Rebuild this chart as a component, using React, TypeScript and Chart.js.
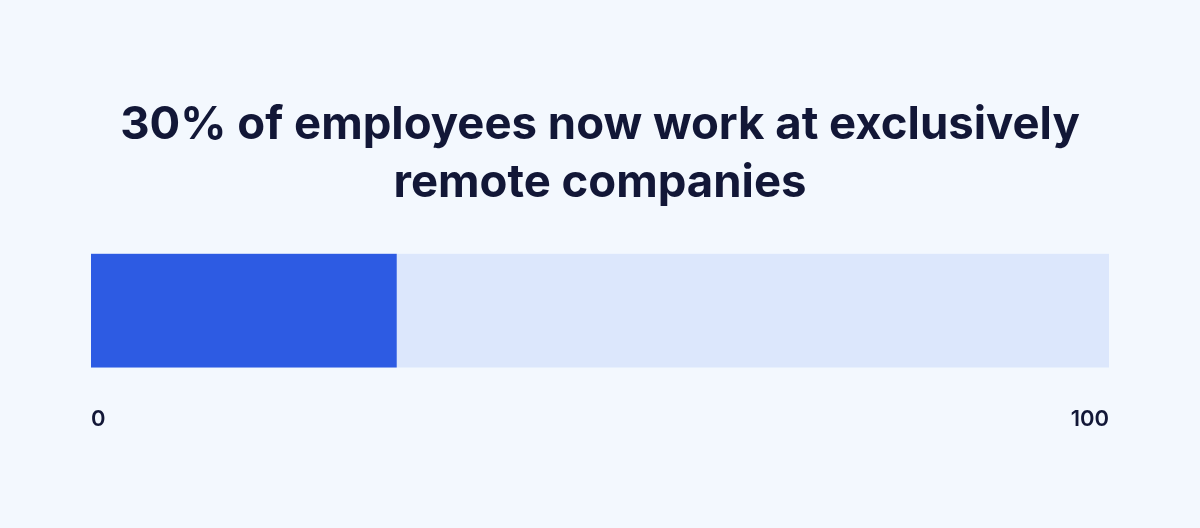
import React, { useEffect, useRef } from "react";
import { Chart, registerables } from "chart.js";

Chart.register(...registerables);

const titleLines = ["30% of employees now work at exclusively", "remote companies"];
const categories = [""];
const shareValues = [30];
const totalValues = [100];
const axisMin = 0;
const axisMax = 100;

export default function App() {
  const ref = useRef<HTMLCanvasElement | null>(null);

  useEffect(() => {
    document.body.style.margin = "0";
    document.body.style.background = "#F3F8FE";
    const ctx = ref.current!.getContext("2d")!;
    const chart = new Chart(ctx, {
      type: "bar",
      data: {
        labels: categories,
        datasets: [
          {
            label: "Remote",
            data: shareValues,
            backgroundColor: "#2D5BE3",
            borderWidth: 0,
            grouped: false,
            categoryPercentage: 1,
            barPercentage: 1,
          },
          {
            label: "Total",
            data: totalValues,
            backgroundColor: "#DCE7FC",
            borderWidth: 0,
            grouped: false,
            categoryPercentage: 1,
            barPercentage: 1,
          },
        ],
      },
      options: {
        indexAxis: "y",
        responsive: false,
        animation: false,
        maintainAspectRatio: false,
        layout: { padding: { left: 91, right: 91, top: 0, bottom: 56 } },
        plugins: {
          legend: { display: false },
          tooltip: { enabled: false },
          title: {
            display: true,
            text: titleLines,
            color: "#121737",
            font: { family: "Inter", size: 45.5, weight: "bold", lineHeight: 1.26 },
            padding: { top: 97, bottom: 42 },
          },
        },
        scales: {
          y: { display: false },
          x: {
            min: axisMin,
            max: axisMax,
            grid: { display: false, drawTicks: false },
            border: { display: false },
            ticks: {
              stepSize: 100,
              align: "inner",
              padding: 39,
              color: "#121737",
              font: { family: "Inter", size: 22, weight: 600, lineHeight: 1.2 },
              maxRotation: 0,
            },
          },
        },
      },
    });
    return () => chart.destroy();
  }, []);

  return (
    <div style={{ width: 1200, height: 528, background: "#F3F8FE" }}>
      <canvas ref={ref} width={1200} height={528} style={{ display: "block" }} />
    </div>
  );
}
